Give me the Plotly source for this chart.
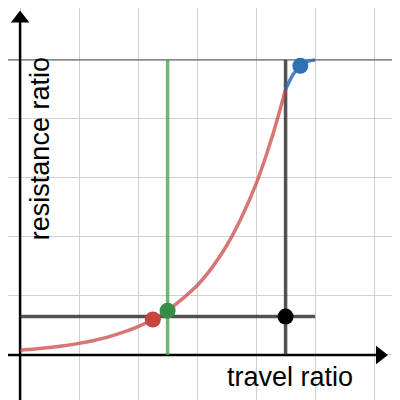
import plotly.graph_objects as go

# red curve (travel ratio -> resistance ratio)
red_x = [0.0, 0.05, 0.1, 0.15, 0.2, 0.25, 0.3, 0.35, 0.4, 0.45, 0.5, 0.55, 0.6, 0.65, 0.7, 0.75, 0.8, 0.85, 0.9]
red_y = [0.016, 0.02, 0.025, 0.031, 0.039, 0.049, 0.061, 0.077, 0.096, 0.12, 0.15, 0.19, 0.235, 0.295, 0.37, 0.465, 0.58, 0.725, 0.9]
blue_x = [0.9, 0.925, 0.95, 0.975, 1.0]
blue_y = [0.9, 0.95, 0.98, 0.995, 1.0]

red_pt = (0.45, 0.12)
green_pt = (0.5, 0.15)
black_pt = (0.9, 0.13)
blue_pt = (0.95, 0.98)

fig = go.Figure()
font = "Liberation Sans, Arial, sans-serif"

# axes with arrows
fig.add_trace(go.Scatter(x=[-0.1, 1.22], y=[0, 0], mode="lines", line=dict(color="black", width=2.5), hoverinfo="skip"))
fig.add_trace(go.Scatter(x=[0, 0], y=[-0.3, 1.14], mode="lines", line=dict(color="black", width=2.5), hoverinfo="skip"))
fig.add_trace(go.Scatter(x=[1.22], y=[0], mode="markers", marker=dict(symbol="triangle-right", size=16, color="black")))
fig.add_trace(go.Scatter(x=[0], y=[1.14], mode="markers", marker=dict(symbol="triangle-up", size=16, color="black")))

# reference lines
fig.add_trace(go.Scatter(x=[-0.07, 1.4], y=[1, 1], mode="lines", line=dict(color="rgba(0,0,0,0.45)", width=1.5)))
fig.add_trace(go.Scatter(x=[0, 1.0], y=[black_pt[1], black_pt[1]], mode="lines", line=dict(color="rgba(40,40,40,0.8)", width=3.5)))
fig.add_trace(go.Scatter(x=[0.9, 0.9], y=[0, 1.0], mode="lines", line=dict(color="rgba(40,40,40,0.8)", width=3.5)))
fig.add_trace(go.Scatter(x=[0.5, 0.5], y=[0, 1.0], mode="lines", line=dict(color="rgba(60,160,70,0.75)", width=3.5)))

# curves
fig.add_trace(go.Scatter(x=red_x, y=red_y, mode="lines", line=dict(color="rgba(200,60,60,0.7)", width=3.5, shape="spline")))
fig.add_trace(go.Scatter(x=blue_x, y=blue_y, mode="lines", line=dict(color="rgba(45,112,179,0.85)", width=3.5, shape="spline")))

# points
for (px, py), c in [(red_pt, "#c74440"), (green_pt, "#388c46"), (black_pt, "#000000"), (blue_pt, "#2d70b3")]:
    fig.add_trace(go.Scatter(x=[px], y=[py], mode="markers", marker=dict(size=16, color=c)))

fig.add_annotation(x=0.07, y=0.7, xref="x", yref="y", text="resistance ratio", textangle=-90,
                   showarrow=False, font=dict(family=font, size=27, color="black"))
fig.add_annotation(x=0.915, y=-0.075, xref="x", yref="y", text="travel ratio",
                   showarrow=False, font=dict(family=font, size=27, color="black"))

grid = dict(showgrid=True, gridcolor="#d0d0d0", gridwidth=1, dtick=0.2, tick0=0,
            zeroline=False, showticklabels=False, ticks="")
fig.update_layout(
    width=400, height=400, margin=dict(l=0, r=0, t=0, b=0),
    paper_bgcolor="white", plot_bgcolor="white", showlegend=False,
    xaxis=dict(range=[-0.041, 1.315], **grid),
    yaxis=dict(range=[-0.18, 1.176], **grid),
)
fig.write_html("out.html")
